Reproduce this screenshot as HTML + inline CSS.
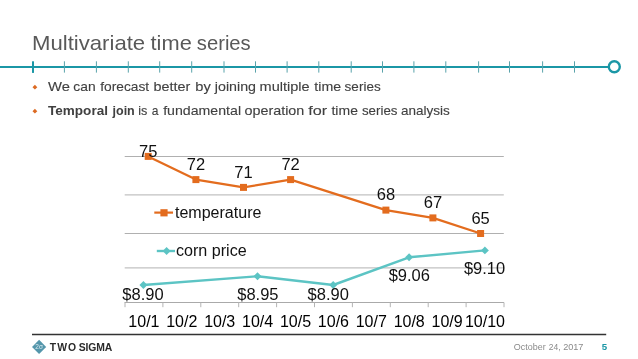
<!DOCTYPE html>
<html><head><meta charset="utf-8"><style>
html,body{margin:0;padding:0;background:#fff;width:638px;height:359px;overflow:hidden}
svg{display:block;will-change:transform;font-family:"Liberation Sans",sans-serif}
</style></head><body>
<svg width="638" height="359" viewBox="0 0 638 359">
<line x1="0" y1="67" x2="608" y2="67" stroke="#1b97a6" stroke-width="2"/>
<rect x="32" y="61.3" width="2" height="11.6" fill="#1b97a6"/>
<rect x="63.90" y="61.3" width="1" height="11.3" fill="#5aa3ab"/>
<rect x="95.90" y="61.3" width="1" height="11.3" fill="#5aa3ab"/>
<rect x="127.80" y="61.3" width="1" height="11.3" fill="#5aa3ab"/>
<rect x="159.20" y="61.3" width="1" height="11.3" fill="#5aa3ab"/>
<rect x="191.20" y="61.3" width="1" height="11.3" fill="#5aa3ab"/>
<rect x="223.50" y="61.3" width="1" height="11.3" fill="#5aa3ab"/>
<rect x="255.00" y="61.3" width="1" height="11.3" fill="#5aa3ab"/>
<rect x="286.60" y="61.3" width="1" height="11.3" fill="#5aa3ab"/>
<rect x="318.30" y="61.3" width="1" height="11.3" fill="#5aa3ab"/>
<rect x="350.70" y="61.3" width="1" height="11.3" fill="#5aa3ab"/>
<rect x="382.00" y="61.3" width="1" height="11.3" fill="#5aa3ab"/>
<rect x="413.40" y="61.3" width="1" height="11.3" fill="#5aa3ab"/>
<rect x="445.30" y="61.3" width="1" height="11.3" fill="#5aa3ab"/>
<rect x="478.10" y="61.3" width="1" height="11.3" fill="#5aa3ab"/>
<rect x="509.00" y="61.3" width="1" height="11.3" fill="#5aa3ab"/>
<rect x="542.10" y="61.3" width="1" height="11.3" fill="#5aa3ab"/>
<rect x="574.00" y="61.3" width="1" height="11.3" fill="#5aa3ab"/>
<circle cx="614.3" cy="66.8" r="5.5" fill="none" stroke="#1b97a6" stroke-width="2.4"/>
<text x="31.98" y="50.2" font-size="19.8" fill="#595959" textLength="113.20" lengthAdjust="spacingAndGlyphs">Multivariate</text>
<text x="150.57" y="50.2" font-size="19.8" fill="#595959" textLength="41.20" lengthAdjust="spacingAndGlyphs">time</text>
<text x="196.84" y="50.2" font-size="19.8" fill="#595959" textLength="53.89" lengthAdjust="spacingAndGlyphs">series</text>
<rect x="33.2" y="85.5" width="3.4" height="3.4" fill="#dc6a22" transform="rotate(45 34.9 87.2)"/>
<rect x="33.2" y="109.5" width="3.4" height="3.4" fill="#dc6a22" transform="rotate(45 34.9 111.2)"/>
<text x="48.14" y="91.3" font-size="13.2" stroke="#404040" stroke-width="0.12" fill="#404040" textLength="21.91" lengthAdjust="spacingAndGlyphs">We</text>
<text x="73.31" y="91.3" font-size="13.2" stroke="#404040" stroke-width="0.12" fill="#404040" textLength="22.28" lengthAdjust="spacingAndGlyphs">can</text>
<text x="100.31" y="91.3" font-size="13.2" stroke="#404040" stroke-width="0.12" fill="#404040" textLength="48.90" lengthAdjust="spacingAndGlyphs">forecast</text>
<text x="153.57" y="91.3" font-size="13.2" stroke="#404040" stroke-width="0.12" fill="#404040" textLength="36.77" lengthAdjust="spacingAndGlyphs">better</text>
<text x="195.36" y="91.3" font-size="13.2" stroke="#404040" stroke-width="0.12" fill="#404040" textLength="15.47" lengthAdjust="spacingAndGlyphs">by</text>
<text x="214.85" y="91.3" font-size="13.2" stroke="#404040" stroke-width="0.12" fill="#404040" textLength="41.17" lengthAdjust="spacingAndGlyphs">joining</text>
<text x="259.64" y="91.3" font-size="13.2" stroke="#404040" stroke-width="0.12" fill="#404040" textLength="50.01" lengthAdjust="spacingAndGlyphs">multiple</text>
<text x="314.38" y="91.3" font-size="13.2" stroke="#404040" stroke-width="0.12" fill="#404040" textLength="26.85" lengthAdjust="spacingAndGlyphs">time</text>
<text x="344.62" y="91.3" font-size="13.2" stroke="#404040" stroke-width="0.12" fill="#404040" textLength="36.06" lengthAdjust="spacingAndGlyphs">series</text>
<text x="48.05" y="114.8" font-size="13.2" font-weight="bold" fill="#404040" textLength="59.89" lengthAdjust="spacingAndGlyphs">Temporal</text>
<text x="112.50" y="114.8" font-size="13.2" font-weight="bold" fill="#404040" textLength="22.28" lengthAdjust="spacingAndGlyphs">join</text>
<text x="138.16" y="114.8" font-size="13.2" stroke="#404040" stroke-width="0.12" fill="#404040" textLength="9.10" lengthAdjust="spacingAndGlyphs">is</text>
<text x="151.69" y="114.8" font-size="13.2" stroke="#404040" stroke-width="0.12" fill="#404040" textLength="6.71" lengthAdjust="spacingAndGlyphs">a</text>
<text x="163.20" y="114.8" font-size="13.2" stroke="#404040" stroke-width="0.12" fill="#404040" textLength="77.85" lengthAdjust="spacingAndGlyphs">fundamental</text>
<text x="244.50" y="114.8" font-size="13.2" stroke="#404040" stroke-width="0.12" fill="#404040" textLength="59.83" lengthAdjust="spacingAndGlyphs">operation</text>
<text x="308.27" y="114.8" font-size="13.2" stroke="#404040" stroke-width="0.12" fill="#404040" textLength="18.90" lengthAdjust="spacingAndGlyphs">for</text>
<text x="331.49" y="114.8" font-size="13.2" stroke="#404040" stroke-width="0.12" fill="#404040" textLength="26.43" lengthAdjust="spacingAndGlyphs">time</text>
<text x="361.93" y="114.8" font-size="13.2" stroke="#404040" stroke-width="0.12" fill="#404040" textLength="35.55" lengthAdjust="spacingAndGlyphs">series</text>
<text x="400.93" y="114.8" font-size="13.2" stroke="#404040" stroke-width="0.12" fill="#404040" textLength="48.86" lengthAdjust="spacingAndGlyphs">analysis</text>
<line x1="124.7" y1="156.5" x2="503.8" y2="156.5" stroke="#b0b0b0" stroke-width="1"/>
<line x1="124.7" y1="194.9" x2="503.8" y2="194.9" stroke="#c2c2c2" stroke-width="1.3"/>
<line x1="124.7" y1="233.5" x2="503.8" y2="233.5" stroke="#b0b0b0" stroke-width="1"/>
<line x1="124.7" y1="267.85" x2="503.8" y2="267.85" stroke="#c2c2c2" stroke-width="1.3"/>
<line x1="124.5" y1="302.5" x2="504" y2="302.5" stroke="#aaaaaa" stroke-width="1.2"/>
<line x1="125.00" y1="302.5" x2="125.00" y2="307.2" stroke="#b4b4b4" stroke-width="1"/>
<line x1="162.90" y1="302.5" x2="162.90" y2="307.2" stroke="#b4b4b4" stroke-width="1"/>
<line x1="200.80" y1="302.5" x2="200.80" y2="307.2" stroke="#b4b4b4" stroke-width="1"/>
<line x1="238.70" y1="302.5" x2="238.70" y2="307.2" stroke="#b4b4b4" stroke-width="1"/>
<line x1="276.60" y1="302.5" x2="276.60" y2="307.2" stroke="#b4b4b4" stroke-width="1"/>
<line x1="314.50" y1="302.5" x2="314.50" y2="307.2" stroke="#b4b4b4" stroke-width="1"/>
<line x1="352.40" y1="302.5" x2="352.40" y2="307.2" stroke="#b4b4b4" stroke-width="1"/>
<line x1="390.30" y1="302.5" x2="390.30" y2="307.2" stroke="#b4b4b4" stroke-width="1"/>
<line x1="428.20" y1="302.5" x2="428.20" y2="307.2" stroke="#b4b4b4" stroke-width="1"/>
<line x1="466.10" y1="302.5" x2="466.10" y2="307.2" stroke="#b4b4b4" stroke-width="1"/>
<line x1="504.00" y1="302.5" x2="504.00" y2="307.2" stroke="#b4b4b4" stroke-width="1"/>
<text x="143.90" y="326.9" font-size="16" text-anchor="middle" fill="#000">10/1</text>
<text x="181.80" y="326.9" font-size="16" text-anchor="middle" fill="#000">10/2</text>
<text x="219.70" y="326.9" font-size="16" text-anchor="middle" fill="#000">10/3</text>
<text x="257.60" y="326.9" font-size="16" text-anchor="middle" fill="#000">10/4</text>
<text x="295.50" y="326.9" font-size="16" text-anchor="middle" fill="#000">10/5</text>
<text x="333.40" y="326.9" font-size="16" text-anchor="middle" fill="#000">10/6</text>
<text x="371.30" y="326.9" font-size="16" text-anchor="middle" fill="#000">10/7</text>
<text x="409.20" y="326.9" font-size="16" text-anchor="middle" fill="#000">10/8</text>
<text x="447.10" y="326.9" font-size="16" text-anchor="middle" fill="#000">10/9</text>
<text x="485.00" y="326.9" font-size="16" text-anchor="middle" fill="#000">10/10</text>
<polyline points="148.2,156.4 195.9,179.6 243.5,187.4 290.6,179.6 385.9,210.1 432.9,217.9 480.6,233.5" fill="none" stroke="#e36c1e" stroke-width="2.2" stroke-linejoin="round"/>
<rect x="144.7" y="152.9" width="7" height="7" fill="#e36c1e"/>
<text x="148.2" y="156.6" font-size="16.5" text-anchor="middle" fill="#111">75</text>
<rect x="192.4" y="176.1" width="7" height="7" fill="#e36c1e"/>
<text x="195.9" y="169.79999999999998" font-size="16.5" text-anchor="middle" fill="#111">72</text>
<rect x="240.0" y="183.9" width="7" height="7" fill="#e36c1e"/>
<text x="243.5" y="177.6" font-size="16.5" text-anchor="middle" fill="#111">71</text>
<rect x="287.1" y="176.1" width="7" height="7" fill="#e36c1e"/>
<text x="290.6" y="169.79999999999998" font-size="16.5" text-anchor="middle" fill="#111">72</text>
<rect x="382.4" y="206.6" width="7" height="7" fill="#e36c1e"/>
<text x="385.9" y="200.29999999999998" font-size="16.5" text-anchor="middle" fill="#111">68</text>
<rect x="429.4" y="214.4" width="7" height="7" fill="#e36c1e"/>
<text x="432.9" y="208.1" font-size="16.5" text-anchor="middle" fill="#111">67</text>
<rect x="477.1" y="230.0" width="7" height="7" fill="#e36c1e"/>
<text x="480.6" y="223.7" font-size="16.5" text-anchor="middle" fill="#111">65</text>
<polyline points="143.4,285.0 257.5,276.3 333.2,285.0 409.1,257.3 484.9,250.4" fill="none" stroke="#5cc4c4" stroke-width="2.4" stroke-linejoin="round"/>
<rect x="140.6" y="282.2" width="5.6" height="5.6" fill="#5cc4c4" transform="rotate(45 143.4 285.0)"/>
<text x="143.0" y="300.3" font-size="16.5" text-anchor="middle" fill="#111">$8.90</text>
<rect x="254.7" y="273.5" width="5.6" height="5.6" fill="#5cc4c4" transform="rotate(45 257.5 276.3)"/>
<text x="257.9" y="299.8" font-size="16.5" text-anchor="middle" fill="#111">$8.95</text>
<rect x="330.4" y="282.2" width="5.6" height="5.6" fill="#5cc4c4" transform="rotate(45 333.2 285.0)"/>
<text x="328.2" y="300.3" font-size="16.5" text-anchor="middle" fill="#111">$8.90</text>
<rect x="406.3" y="254.5" width="5.6" height="5.6" fill="#5cc4c4" transform="rotate(45 409.1 257.3)"/>
<text x="409.3" y="280.8" font-size="16.5" text-anchor="middle" fill="#111">$9.06</text>
<rect x="482.09999999999997" y="247.6" width="5.6" height="5.6" fill="#5cc4c4" transform="rotate(45 484.9 250.4)"/>
<text x="484.6" y="273.9" font-size="16.5" text-anchor="middle" fill="#111">$9.10</text>
<line x1="154.3" y1="212.6" x2="173" y2="212.6" stroke="#e36c1e" stroke-width="2.2"/>
<rect x="160.4" y="209.2" width="7.2" height="7.2" fill="#e36c1e"/>
<text x="174.96" y="218.2" font-size="16" fill="#111" textLength="86.46" lengthAdjust="spacingAndGlyphs">temperature</text>
<line x1="156.8" y1="251" x2="175" y2="251" stroke="#5cc4c4" stroke-width="2.4"/>
<rect x="163.8" y="248.2" width="5.6" height="5.6" fill="#5cc4c4" transform="rotate(45 166.6 251)"/>
<text x="175.91" y="256" font-size="15.8" fill="#111" textLength="70.80" lengthAdjust="spacingAndGlyphs">corn price</text>
<line x1="32" y1="334.6" x2="606.2" y2="334.6" stroke="#333" stroke-width="1.5"/>
<rect x="34.1" y="341.9" width="10" height="10" fill="#5496ab" transform="rotate(45 39.1 346.9)"/>
<text x="39.1" y="349.3" font-size="6.5" text-anchor="middle" fill="#d6e8ee">2σ</text>
<text x="49.87" y="350.9" font-size="10.4" font-weight="bold" fill="#2a2a2a" textLength="26.20" lengthAdjust="spacing">TWO</text>
<text x="78.71" y="350.9" font-size="10.4" font-weight="bold" fill="#2a2a2a" textLength="33.46" lengthAdjust="spacing">SIGMA</text>
<text x="513.87" y="349.9" font-size="9.7" fill="#8a8a8a" textLength="31.97" lengthAdjust="spacingAndGlyphs">October</text>
<text x="548.77" y="349.9" font-size="9.7" fill="#8a8a8a" textLength="11.79" lengthAdjust="spacingAndGlyphs">24,</text>
<text x="563.14" y="349.9" font-size="9.7" fill="#8a8a8a" textLength="20.32" lengthAdjust="spacingAndGlyphs">2017</text>
<text x="601.8" y="349.8" font-size="9.7" font-weight="bold" fill="#1b97a6">5</text>
</svg>
</body></html>
